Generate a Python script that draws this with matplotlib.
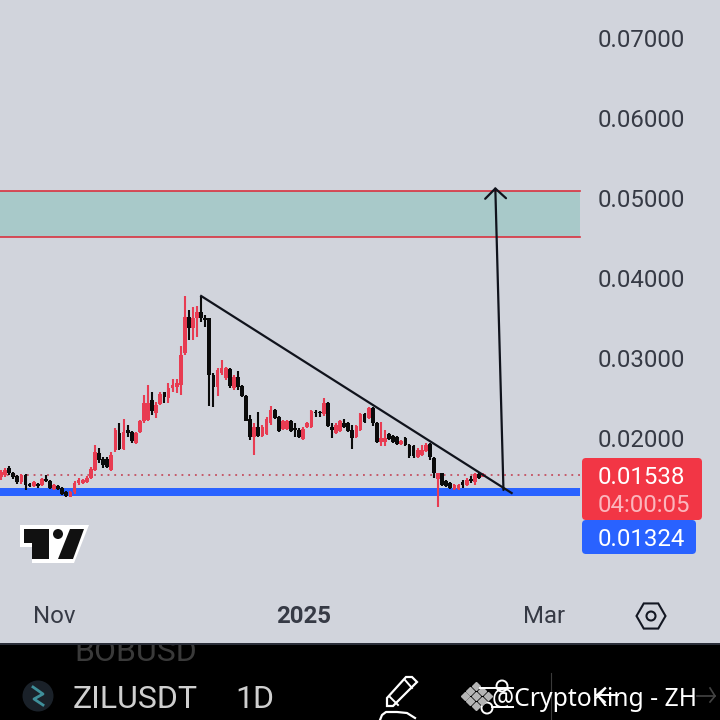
import matplotlib as mpl
mpl.use('agg')
import matplotlib.pyplot as plt
import matplotlib.dates as mdates
from matplotlib.patches import Rectangle, FancyBboxPatch, Polygon, Circle, RegularPolygon
import numpy as np
import pandas as pd

plt.rcParams['font.family'] = ['Roboto', 'DejaVu Sans']

start_date = "2024-10-19"

opens = [
    .01513, .01538, .01625, .01563, .01525, .0145, .01538, .01425, .014, .01425,
    .01413, .01488, .01463, .01363, .014, .01375, .01325, .01263, .01325, .01438,
    .01438, .0145, .015, .016, .01813, .01738, .01738, .016, .0185, .02063,
    .01863, .021, .02075, .01938, .02075, .02213, .02225, .02475, .02313, .02425,
    .02575, .025, .02625, .02638, .02663, .03063, .03513, .03375, .035, .03575,
    .035, .035, .02788, .02638, .02813, .0275, .02863, .02625, .02763, .0265,
    .02525, .02238, .02013, .02138, .02025, .0205, .02188, .0235, .02263, .02113,
    .02113, .02213, .02125, .021, .01988, .02138, .02138, .02325, .02325, .023,
    .02438, .02138, .02063, .02088, .02188, .02188, .021, .02013, .021, .023,
    .0225, .02375, .02188, .0195, .0195, .0205, .02025, .02013, .01925, .02,
    .01913, .019, .01763, .01788, .01838, .01925, .0175, .01488, .01563, .01463,
    .01438, .01363, .01363, .0145, .01413, .01488, .0145, .0155, .01513]
highs = [
    .016, .01625, .0165, .01575, .01538, .0155, .0155, .01438, .01463, .01438,
    .015, .01538, .01475, .01425, .01413, .01388, .01338, .01338, .01463, .015,
    .01488, .01525, .01638, .01913, .01875, .01763, .01763, .01825, .02125, .02188,
    .02238, .02163, .02088, .02075, .02225, .02538, .02663, .02575, .0245, .02575,
    .02575, .02688, .02738, .02738, .0315, .03775, .036, .03638, .0365, .03775,
    .03538, .035, .02813, .02875, .02975, .02888, .02875, .02788, .02838, .02663,
    .02538, .02288, .02188, .02325, .02163, .02263, .024, .02363, .02275, .02225,
    .02225, .02225, .02188, .02125, .02138, .022, .0235, .0235, .02338, .025,
    .0245, .02188, .02188, .02225, .02238, .022, .02163, .02163, .02313, .02313,
    .02388, .02388, .022, .022, .021, .02063, .02038, .02025, .01975, .02013,
    .01925, .01913, .01875, .01913, .01938, .01938, .01763, .01563, .01563, .01475,
    .0145, .01425, .01425, .01475, .015, .01525, .01563, .01563, .01563]
lows = [
    .01475, .01513, .01538, .01488, .01425, .01425, .0135, .01388, .01388, .01375,
    .014, .0145, .01363, .0135, .0135, .01288, .01263, .01263, .013, .01413,
    .01425, .01438, .01488, .01588, .01688, .01625, .01625, .01588, .01825, .0185,
    .0185, .02013, .01938, .01925, .02063, .02188, .02213, .02288, .0225, .02413,
    .02438, .02438, .02575, .02563, .02538, .03038, .03225, .03225, .03263, .0345,
    .03388, .024, .02388, .02525, .02788, .02725, .02625, .026, .026, .02513,
    .02213, .01975, .01788, .02013, .02013, .02038, .02163, .02238, .02075, .021,
    .021, .02075, .02013, .02, .01975, .02125, .02125, .02263, .02263, .02275,
    .02138, .02, .0205, .02075, .02125, .02075, .01863, .02, .02088, .02188,
    .02238, .0215, .01938, .019, .019, .01975, .01938, .01913, .01913, .019,
    .0175, .0175, .0175, .01775, .01825, .01725, .015, .01138, .014, .01388,
    .01363, .0135, .0135, .01375, .014, .01438, .01413, .01488, .01513]
closes = [
    .01575, .016, .01563, .01513, .0145, .01538, .01413, .014, .0145, .014,
    .01488, .01463, .01375, .01413, .01363, .013, .01275, .01325, .01438, .01475,
    .01475, .015, .01613, .01825, .01725, .01663, .01638, .01788, .021, .01863,
    .02075, .02063, .01963, .02063, .02213, .02438, .02438, .02338, .02413, .0255,
    .02513, .02625, .02663, .02688, .03038, .03513, .03375, .035, .03575, .035,
    .03475, .02788, .02638, .0285, .02875, .02875, .0265, .02763, .02638, .02525,
    .02213, .02013, .02138, .02025, .02138, .02238, .0235, .0225, .02088, .02213,
    .02213, .02088, .021, .02013, .02113, .02188, .02338, .02313, .02313, .02438,
    .0215, .021, .02163, .02213, .02138, .02088, .02, .0215, .023, .022,
    .02375, .02188, .0195, .02, .02, .01988, .0195, .01925, .01963, .01913,
    .01775, .01775, .0185, .0185, .01913, .01763, .01563, .01563, .01413, .014,
    .01375, .01413, .01413, .01413, .01475, .01463, .0155, .015, .01538]

price_ticks = [0.02, 0.03, 0.04, 0.05, 0.06, 0.07]
date_ticks = ["2024-11-01", "2025-01-01", "2025-03-01"]
date_labels = ["Nov", "2025", "Mar"]

zone_low = 0.04513
zone_high = 0.05088
support = 0.01324
last_price = 0.01538
countdown = "04:00:05"

trend_dates = ["2024-12-07", "2025-02-21"]
trend_prices = [0.03775, 0.01312]
arrow_dates = ["2025-02-19", "2025-02-17"]
arrow_prices = [0.0135, 0.05138]

bg = '#d1d4dc'
red = '#e83c52'
black = '#0b0b0b'
blue = '#2962ff'
tick_col = '#363a45'
PX = 0.72  # points per pixel at dpi 100

fig = plt.figure(figsize=(7.2, 7.2), dpi=100, facecolor=bg)
# chart panel runs from the top of the image down to the black app bar
ax = fig.add_axes([0, 77/720, 1, 643/720], facecolor=bg)

dates = mdates.date2num(pd.date_range(start_date, periods=len(opens)))
o, h, l, c = map(np.array, (opens, highs, lows, closes))
up = c >= o
cols = np.where(up, red, black)

d0 = dates[0]
px_day = 4.085
ax.set_xlim(d0 - 1/px_day, d0 + 719/px_day)
ax.set_ylim(-0.005625, 0.07475)
chart_frac = 580/720

ax.axhspan(zone_low, zone_high, xmin=0, xmax=chart_frac, color='#a8c9c9', lw=0, zorder=1)
for lev in (zone_low, zone_high):
    ax.axhline(lev, xmin=0, xmax=chart_frac, color='#d9323f', lw=1.2, zorder=2)
ax.axhline(support, xmin=0, xmax=chart_frac, color=blue, lw=8*PX, solid_capstyle='butt', zorder=2)
ax.axhline(last_price, xmin=0, xmax=chart_frac, color='#c2384a', lw=1.1, ls=(0, (1.2, 3.2)), zorder=2)

ax.vlines(dates, l, h, colors=cols, lw=1.5, zorder=3)
ax.bar(dates, np.abs(c-o), bottom=np.minimum(o, c), width=0.92, color=cols, lw=0, zorder=4)

ax.plot(mdates.datestr2num(trend_dates), trend_prices, color='#10131c', lw=1.6, zorder=5)
arrow_x = mdates.datestr2num(arrow_dates)
ax.annotate('', xy=(arrow_x[1], arrow_prices[1]), xytext=(arrow_x[0], arrow_prices[0]),
            arrowprops=dict(arrowstyle='->,head_length=0.72,head_width=0.75', mutation_scale=10,
                            color='#10131c', lw=1.6, shrinkA=0, shrinkB=0), zorder=5)

for s in ax.spines.values():
    s.set_visible(False)
ax.yaxis.tick_right()
ax.set_yticks(price_ticks)
ax.set_yticklabels(["%.5f" % p for p in price_ticks])
ax.tick_params(axis='y', length=0, pad=-122*PX, labelsize=17.3, labelcolor=tick_col)
ax.set_xticks(mdates.datestr2num(date_ticks))
ax.set_xticklabels(date_labels)
ax.tick_params(axis='x', length=0, pad=-38*PX, labelsize=17.3, labelcolor=tick_col)
ax.get_xticklabels()[1].set_fontweight('bold')

# overlay in pixel coordinates for the app furniture
ov = fig.add_axes([0, 0, 1, 1], facecolor='none')
ov.set_xlim(0, 720)
ov.set_ylim(720, 0)
ov.axis('off')

# price tags
ov.add_patch(FancyBboxPatch((584, 460), 116, 58, boxstyle='round,pad=2,rounding_size=4', fc='#f23645', ec='none'))
ov.add_patch(FancyBboxPatch((584, 522), 110, 30, boxstyle='round,pad=2,rounding_size=4', fc=blue, ec='none'))
ov.text(641, 478, "%.5f" % last_price, color='white', fontsize=17.3, ha='center', va='center')
ov.text(644, 506, countdown, color='#fbb6bd', fontsize=17.3, ha='center', va='center')
ov.text(641, 540, "%.5f" % support, color='white', fontsize=17.3, ha='center', va='center')

# tradingview mark
ov.add_patch(Polygon([(20, 525), (89, 525), (74, 563), (32, 563), (32, 547), (20, 547)], fc='white', ec='none'))
ov.add_patch(Polygon([(24, 529), (49, 529), (49, 559), (32, 559), (32, 543), (24, 543)], fc='#111111', ec='none'))
ov.add_patch(Circle((58, 534), 5, fc='#111111', ec='none'))
ov.add_patch(Polygon([(70, 529), (84, 529), (73, 559), (58, 559)], fc='#111111', ec='none'))

# settings hexagon
ov.add_patch(RegularPolygon((651, 616), 6, radius=14.5, orientation=np.pi/6, fc='none', ec='#131722', lw=1.5))
ov.add_patch(Circle((651, 616), 4.5, fc='none', ec='#131722', lw=1.5))

# bottom bar
ov.add_patch(Rectangle((0, 643), 720, 77, fc='black', ec='none'))
ov.add_patch(Rectangle((0, 643), 720, 2, fc='#2a2e39', ec='none'))
ghost = ov.text(74, 661, "BOBUSD", color='#3a3a3a', fontsize=23, ha='left', va='baseline', clip_on=True)
ghost.set_clip_path(Rectangle((0, 645), 720, 30, transform=ov.transData))

ov.add_patch(Circle((38, 696), 15.5, fc='#1a2129', ec='none'))
ov.plot([33, 43, 34, 43], [687, 694, 699, 705], color='#3f8f9a', lw=2)
ov.text(73, 708, "ZILUSDT", color='#cfcfcf', fontsize=23, ha='left', va='baseline')
ov.text(235, 708, "1D", color='#cfcfcf', fontsize=23, ha='left', va='baseline')

# pencil
ov.add_patch(Polygon([(406, 677), (412, 677), (417, 682), (393, 706), (387, 706), (387, 698)],
                     fc='none', ec='white', lw=1.6))
ov.plot([390, 398], [697, 705], color='white', lw=1.4)
ov.plot([405, 412], [680, 688], color='white', lw=1.4)
ov.plot([380, 382, 386, 397, 407, 415], [720, 715, 712, 712, 713, 718], color='white', lw=1.6)

# toolbar icons under the watermark
for cx, cy in [(465, 696), (476, 696), (488, 696), (476, 686), (476, 706), (482, 691), (470, 691), (482, 701), (470, 701)]:
    ov.plot([cx], [cy], marker='D', ms=3.6, color='#b5b5b5', ls='none')
ov.add_patch(Circle((502, 686), 5.5, fc='none', ec='white', lw=1.4))
ov.add_patch(Circle((487, 708), 5.5, fc='none', ec='white', lw=1.4))
ov.plot([480, 513], [688, 688], color='white', lw=1.4)
ov.plot([492, 513], [707, 707], color='white', lw=1.4)
ov.plot([551, 551], [673, 720], color='#3a3a3a', lw=0.8)
ov.plot([618, 597], [695, 695], color='white', lw=1.4)
ov.plot([605, 597, 605], [688, 695, 702], color='white', lw=1.4)
ov.plot([697, 715], [696, 696], color='#444444', lw=1.2)
ov.plot([710, 715, 710], [688, 696, 702], color='#444444', lw=1.2)

ov.text(595, 706, "@CryptoKing - ZH", color='white', fontsize=17.8, family=['Noto Sans', 'Roboto'],
        ha='center', va='baseline')

plt.savefig("out.png", dpi=100, facecolor=bg)
